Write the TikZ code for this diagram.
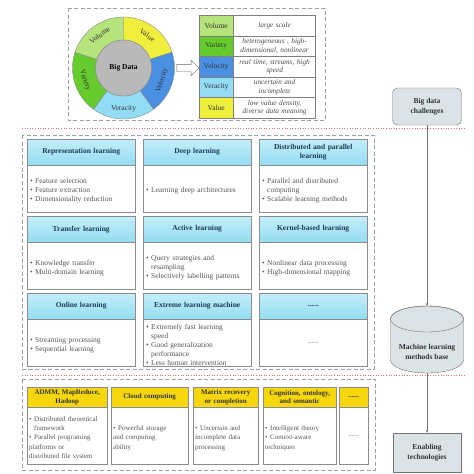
\documentclass[tikz,border=0pt]{standalone}
\usepackage{fontspec}
\setmainfont{Liberation Serif}
\usetikzlibrary{positioning,shapes.geometric,shapes.arrows,arrows.meta}

\definecolor{volC}{HTML}{B6E47C}
\definecolor{valC}{HTML}{F0F03C}
\definecolor{velC}{HTML}{4A90E2}
\definecolor{verC}{HTML}{93DCF5}
\definecolor{varC}{HTML}{66CC2E}
\definecolor{coreC}{HTML}{B9B9B9}
\definecolor{ringline}{HTML}{8A8A8A}
\definecolor{cardgray}{HTML}{8C8C8C}
\definecolor{hdtop}{HTML}{C4EEFA}
\definecolor{hdbot}{HTML}{93DCF2}
\definecolor{navy}{HTML}{1E3A56}
\definecolor{bodytext}{HTML}{555555}
\definecolor{gold}{HTML}{F6D70E}
\definecolor{boxgray}{HTML}{DCE3E6}
\definecolor{redline}{HTML}{E07070}

\newcommand{\itm}[1]{\par\noindent\hangindent=5pt\hangafter=1\makebox[5pt][l]{\textbullet}#1}

\begin{document}
\begin{tikzpicture}[x=1pt,y=-1pt,
  dbox/.style={draw=gray!75,dashed,dash pattern=on 4pt off 2.5pt,line width=.7pt},
  reddot/.style={draw=redline,dotted,line width=.6pt},
  ringlbl/.style={font=\fontsize{7.5}{9}\selectfont,text=black!80,inner sep=1pt},
  vcell/.style={draw=gray,minimum width=34,minimum height=20.6,inner sep=0,font=\fontsize{7.5}{9}\selectfont,text=black!80},
  dcell/.style={draw=gray,fill=white,minimum height=20.6,text width=78pt,inner xsep=2pt,inner ysep=0,align=center,font=\fontsize{7.3}{8.6}\selectfont\itshape,text=black!70},
  mlhead/.style={draw=cardgray,top color=hdtop,bottom color=hdbot,minimum width=108,minimum height=26,text width=102pt,inner xsep=3pt,inner ysep=0,align=center,font=\fontsize{7.5}{9}\selectfont\bfseries,text=navy},
  mlbody/.style={draw=cardgray,fill=white,minimum width=108,minimum height=47,text width=102pt,inner xsep=3pt,inner ysep=0,align=left,font=\fontsize{7.5}{9.1}\selectfont,text=bodytext},
  ethead/.style={draw=cardgray,fill=gold,minimum height=20,inner xsep=2pt,inner ysep=0,align=center,font=\fontsize{7}{8.4}\selectfont\bfseries,text=black!80},
  etbody/.style={draw=cardgray,fill=white,minimum height=57,inner xsep=2pt,inner ysep=0,align=left,font=\fontsize{7}{9.2}\selectfont,text=bodytext},
  sidebox/.style={draw=gray!90!black,fill=boxgray,align=center,font=\fontsize{7.5}{9.5}\selectfont\bfseries,text=black!80},
  conn/.style={draw=gray!90!black,line width=.6pt,-{Stealth[length=3pt,width=2.5pt]}}]
\useasboundingbox (0,0) rectangle (474,474);

% big data properties
\draw[dbox] (68,8) rectangle (325,120);
\begin{scope}[shift={(123.5,68)},yscale=-1]
  \foreach \a/\col/\lbl/\rot in {90/valC/Value/-36,18/velC/Velocity/72,-54/verC/Veracity/0,-126/varC/Variety/-72,162/volC/Volume/36}{
    \filldraw[draw=ringline,fill=\col] (\a:28) arc[start angle=\a,end angle=\a-72,radius=28]
      -- ({\a-72}:51) arc[start angle=\a-72,end angle=\a,radius=51] -- cycle;
    \node[ringlbl,rotate=\rot] at ({\a-36}:40.5) {\lbl};
  }
  \node[circle,draw=ringline,fill=coreC,minimum size=56,inner sep=0,font=\fontsize{7.5}{9}\selectfont\bfseries] (core) at (0,0) {Big Data};
\end{scope}
\node[single arrow,draw=gray!80!black,fill=white,minimum height=22pt,inner xsep=0,inner ysep=3.5pt,single arrow head extend=4pt] (arw) at (186,68) {};
\foreach \i/\nm/\col/\txt in {0/Volume/volC/{large scale},
    1/Variety/varC/{heterogeneous , high-\\dimensional, nonlinear},
    2/Velocity/velC/{real time, streams, high\\speed},
    3/Veracity/verC/{uncertain and\\incomplete},
    4/Value/valC/{low value density,\\diverse data meaning}}{
  \node[vcell,fill=\col,anchor=north west] (v\i) at (199,{15+\i*20.6}) {\nm};
  \node[dcell,right=0pt of v\i] (d\i) {\txt};
}

\draw[reddot] (22,128) -- (466,128);

% machine learning methods
\draw[dbox] (22,135) rectangle (374,369);
\foreach \nm/\x/\y/\ttl/\txt in {
    rep/27/139/{Representation learning}/{\itm{Feature selection}\itm{Feature extraction}\itm{Dimensionality reduction}},
    deep/143/139/{Deep learning}/{\itm{Learning deep architectures}},
    dist/259/139/{Distributed and parallel\\learning}/{\itm{Parallel and distributed\newline computing}\itm{Scalable learning methods}},
    trans/27/216/{Transfer learning}/{\itm{Knowledge transfer}\itm{Multi-domain learning}},
    act/143/216/{Active learning}/{\itm{Query strategies and\newline resampling}\itm{Selectively labelling patterns}},
    kern/259/216/{Kernel-based learning}/{\itm{Nonlinear data processing}\itm{High-dimensional mapping}},
    onl/27/293/{Online learning}/{\itm{Streaming processing}\itm{Sequential learning}},
    elm/143/293/{Extreme learning machine}/{\itm{Extremely fast learning\newline speed}\itm{Good generalization\newline performance}\itm{Less human intervention}}}{
  \node[mlhead,anchor=north west] (\nm-h) at (\x,\y) {\ttl};
  \node[mlbody,below=0pt of \nm-h] (\nm-b) {\txt};
}
\node[mlhead,anchor=north west] (more-h) at (259,293) {......};
\node[mlbody,align=center,below=0pt of more-h] (more-b) {......};

\draw[reddot] (22,375) -- (466,375);

% enabling technologies
\draw[dbox] (22,379) rectangle (375,470);
\foreach \nm/\x/\w/\tw/\ttl/\txt in {
    admm/27/80/76pt/{ADMM, MapReduce,\\Hadoop}/{\itm{Distributed theoretical\newline framework}\itm{Parallel programing\newline platforms or\newline distributed file system}},
    cloud/111/77/73pt/{Cloud computing}/{\itm{Powerful storage\newline and computing\newline ability}},
    mat/193/65/61pt/{Matrix recovery\\or completion}/{\itm{Uncertain and\newline incomplete data\newline processing}},
    cog/263/73/69pt/{Cognition, ontology,\\and semantic}/{\itm{Intelligent theory}\itm{Context-aware\newline techniques}}}{
  \node[ethead,minimum width=\w,text width=\tw,anchor=north west] (\nm-h) at (\x,387) {\ttl};
  \node[etbody,minimum width=\w,text width=\tw,below=0pt of \nm-h] (\nm-b) {\txt};
}
\node[ethead,minimum width=29,text width=25pt,anchor=north west] (etc-h) at (339,387) {......};
\node[etbody,minimum width=29,text width=25pt,align=center,below=0pt of etc-h] (etc-b) {......};

% right column
\node[sidebox,rounded corners=5pt,minimum width=69,minimum height=37] (bdc) at (427,106.5) {Big data\\challenges};
\filldraw[draw=gray!90!black,fill=boxgray] (390.5,319) -- (390.5,360)
  arc[start angle=180,end angle=360,x radius=36.5pt,y radius=13pt] -- (463.5,319)
  arc[start angle=0,end angle=180,x radius=36.5pt,y radius=13pt] -- cycle;
\draw[draw=gray!90!black] (427,319) ellipse[x radius=36.5pt,y radius=13pt];
\coordinate (mlb-top) at (427,306);
\coordinate (mlb-bot) at (427,373);
\node[sidebox,draw=none,fill=none,inner sep=0] (mlb) at (427,352) {Machine learning\\methods base};
\node[sidebox,minimum width=68,minimum height=39] (ent) at (427,452.5) {Enabling\\technologies};
\draw[conn] (bdc) -- (mlb-top);
\draw[conn] (mlb-bot) -- (ent);
\end{tikzpicture}
\end{document}
